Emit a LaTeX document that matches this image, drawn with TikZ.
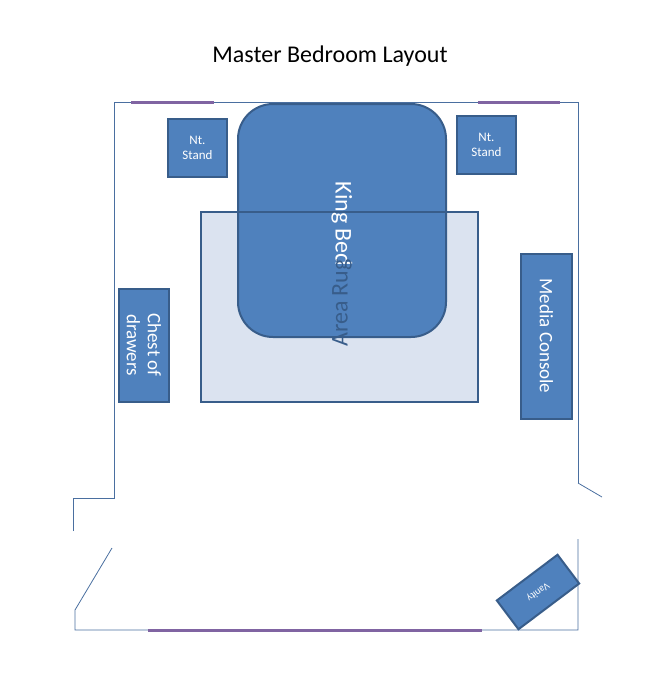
\documentclass[tikz,border=0pt]{standalone}
\usepackage{fontspec}
\setmainfont{Carlito}
\begin{document}
\begin{tikzpicture}[x=1pt,y=-1pt,
  wall/.style={draw=wallc,line width=0.8pt},
  win/.style={draw=winc,line width=3pt},
  furn/.style={draw=furnd,fill=furnc,line width=2pt},
  lbl/.style={text=white,align=center,inner sep=0pt},
  ]
\definecolor{wallc}{HTML}{4A6FA0}
\definecolor{winc}{HTML}{8064A2}
\definecolor{furnc}{HTML}{4F81BD}
\definecolor{furnd}{HTML}{385D8A}
\definecolor{rugc}{HTML}{DBE3F0}
\useasboundingbox (0,0) rectangle (664,681);
\node (title) at (330,56) {\fontsize{24}{28}\selectfont Master Bedroom Layout};
% walls
\draw[wall] (73,531) -- (73,498) -- (114,498) -- (114,102) -- (578,102) -- (578,483);
\draw[wall] (578,483) -- (602,497);
\draw[wall] (112,548) -- (75,610) -- (75,630) -- (578,630) -- (578,539);
% windows
\draw[win] (131,102) -- (214,102);
\draw[win] (478,102) -- (560,102);
\draw[win] (148,630) -- (482,630);
% furniture
\draw[furn] (168,119) rectangle (227,177);
\node[lbl,font=\fontsize{13}{15}\selectfont] (ns1) at (197.5,148) {Nt.\\Stand};
\draw[furn] (457,116) rectangle (516,174);
\node[lbl,font=\fontsize{13}{15}\selectfont] (ns2) at (486.5,145) {Nt.\\Stand};
\draw[draw=furnd,fill=rugc,line width=2pt] (201,212) rectangle (478,402);
\draw[furn,rounded corners=35pt] (238,104) rectangle (446,337);
\draw[draw=furnd,line width=2pt] (201,212) rectangle (478,402);
\node[lbl,rotate=-90,font=\fontsize{24}{28}\selectfont] (bed) at (342,224) {King Bed};
\node[lbl,rotate=90,text=furnd,font=\fontsize{24}{28}\selectfont] (rug) at (342,303) {Area Rug};
\draw[furn] (119,289) rectangle (169,402);
\node[lbl,rotate=-90,font=\fontsize{19}{21}\selectfont] (chest) at (144,345) {Chest of\\drawers};
\draw[furn] (521,254) rectangle (572,419);
\node[lbl,rotate=-90,font=\fontsize{19}{22}\selectfont] (media) at (546.5,336) {Media Console};
\node[furn,lbl,rotate=217,minimum width=76pt,minimum height=36pt,font=\fontsize{10}{12}\selectfont] (vanity) at (538,592) {Vanity};
\end{tikzpicture}
\end{document}
